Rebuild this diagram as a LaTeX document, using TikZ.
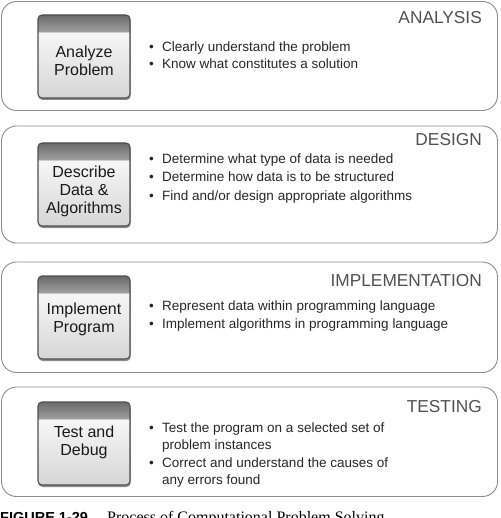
\documentclass[tikz,border=0pt]{standalone}
\usepackage{fontspec}
\setmainfont{Liberation Sans}
\newfontfamily\capserif{Liberation Serif}
\usetikzlibrary{shadows}
\definecolor{panelline}{HTML}{8C8C8C}
\definecolor{titlegray}{HTML}{505050}
\definecolor{boxline}{HTML}{4F4F4F}
\definecolor{headtop}{HTML}{6A6A6A}
\definecolor{headbot}{HTML}{A0A0A0}
\definecolor{bodybot}{HTML}{D6D6D6}
\tikzset{
  panel/.style={draw=panelline, line width=0.9pt, rounded corners=15pt},
  phasetitle/.style={anchor=base east, font=\fontsize{17.3}{17}\selectfont, text=titlegray, inner sep=0pt},
  dot/.style={anchor=base west, font=\fontsize{13.5}{17}\selectfont, inner sep=0pt, text=black!85},
  bullettext/.style={anchor=base west, font=\fontsize{13.5}{16.5}\selectfont, inner sep=0pt, text=black!85},
  boxlabel/.style={align=center, font=\fontsize{16}{18}\selectfont, inner sep=0pt, text=black!90},
}
\newcommand\procbox[3]{%
  \path[rounded corners=4pt, drop shadow={shadow xshift=0.6pt, shadow yshift=-2pt, opacity=0.45, fill=black},
        top color=white, bottom color=bodybot] (38,#2) rectangle (130,#3);
  \begin{scope}
    \clip[rounded corners=4pt] (38,#2) rectangle (130,#3);
    \shade[top color=headtop, bottom color=headbot] (38,#2) rectangle (130,{#2+17});
    \draw[gray!40, line width=0.6pt] (38,{#2+17}) -- (130,{#2+17});
  \end{scope}
  \draw[boxline, line width=1.1pt, rounded corners=4pt] (38,#2) rectangle (130,#3);
  \coordinate (#1) at (84,{(#2+#3)/2});
}
\begin{document}
\begin{tikzpicture}[x=1pt,y=-1pt]
\useasboundingbox (0,0) rectangle (500,518);
\clip (0,0) rectangle (500,518);
% panels
\draw[panel] (1.5,1.5) rectangle (497.5,110.5);
\draw[panel] (1.5,126) rectangle (497.5,243);
\draw[panel] (1.5,262) rectangle (497.5,372.5);
\draw[panel] (1.5,387) rectangle (497.5,496.5);
% titles
\node[phasetitle] (t1) at (482,24) {ANALYSIS};
\node[phasetitle] (t2) at (482,146) {DESIGN};
\node[phasetitle] (t3) at (482,286) {IMPLEMENTATION};
\node[phasetitle] (t4) at (482,412) {TESTING};
% boxes
\procbox{b1}{15}{98}
\procbox{b2}{143}{226}
\procbox{b3}{276}{359}
\procbox{b4}{402}{485}
\node[boxlabel] (l1) at (84,61) {Analyze\\Problem};
\node[boxlabel] (l2) at (84,191) {Describe\\Data \&\\Algorithms};
\node[boxlabel] (l3) at (84,319) {Implement\\Program};
\node[boxlabel] (l4) at (84,442) {Test and\\Debug};
% bullets panel 1
\node[dot] (d11) at (149,52) {•};
\node[bullettext] (s11) at (162,52) {Clearly understand the problem};
\node[dot] (d12) at (149,69) {•};
\node[bullettext] (s12) at (162,69) {Know what constitutes a solution};
% panel 2
\node[dot] (d21) at (149,164) {•};
\node[bullettext] (s21) at (162,164) {Determine what type of data is needed};
\node[dot] (d22) at (149,182) {•};
\node[bullettext] (s22) at (162,182) {Determine how data is to be structured};
\node[dot] (d23) at (149,201) {•};
\node[bullettext] (s23) at (162,201) {Find and/or design appropriate algorithms};
% panel 3
\node[dot] (d31) at (149,310) {•};
\node[bullettext] (s31) at (162,310) {Represent data within programming language};
\node[dot] (d32) at (149,328) {•};
\node[bullettext] (s32) at (162,328) {Implement algorithms in programming language};
% panel 4
\node[dot] (d41) at (149,432) {•};
\node[bullettext] (s41) at (162,432) {Test the program on a selected set of};
\node[bullettext] (s41b) at (162,449) {problem instances};
\node[dot] (d42) at (149,467) {•};
\node[bullettext] (s42) at (162,467) {Correct and understand the causes of};
\node[bullettext] (s42b) at (162,484) {any errors found};
% caption (cut off by the page edge, as in the reference)
\node[anchor=base west, inner sep=0pt, font=\bfseries\fontsize{14.5}{14.5}\selectfont] (cap1) at (0,522) {FIGURE 1-29};
\node[anchor=base west, inner sep=0pt, font=\capserif\fontsize{16}{16}\selectfont] (cap2) at (107,522) {Process of Computational Problem Solving};
\end{tikzpicture}
\end{document}
